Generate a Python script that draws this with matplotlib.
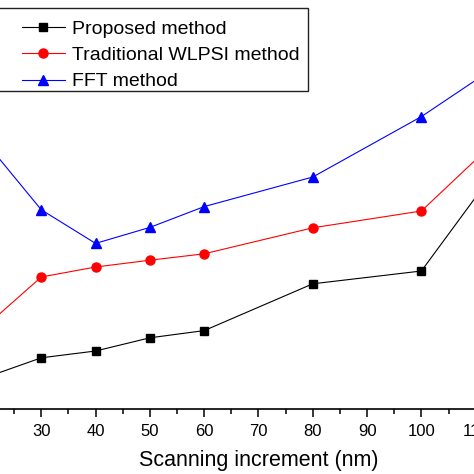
import matplotlib
matplotlib.use("Agg")
import matplotlib.pyplot as plt
from matplotlib.patches import Rectangle

plt.rcParams['font.family'] = ['Liberation Sans', 'DejaVu Sans']

x = [20, 30, 40, 50, 60, 80, 100, 120]
proposed = [0.80, 1.28, 1.45, 1.78, 1.96, 3.13, 3.45, 7.14]
traditional = [2.10, 3.30, 3.55, 3.72, 3.88, 4.53, 4.95, 7.51]
fft = [6.63, 4.98, 4.14, 4.54, 5.06, 5.80, 7.31, 9.13]
labels = ["Proposed method", "Traditional WLPSI method", "FFT method"]
xticks = [20, 30, 40, 50, 60, 70, 80, 90, 100, 110, 120]

W = 474.0
fig = plt.figure(figsize=(4.74, 4.74), dpi=100)
# axes extends beyond the visible region (cropped figure)
left_px, right_px = -13.0, -13.0 + 100 * 5.43
bottom_px, top_px = 409.0, -10.0
ax = fig.add_axes([left_px / W, 1 - bottom_px / W, (right_px - left_px) / W, (bottom_px - top_px) / W])
ax.set_xlim(20, 120)
ax.set_ylim(0, (bottom_px - top_px) / 40.0)

ax.plot(x, proposed, color='black', lw=0.8, marker='s', ms=6, label=labels[0])
ax.plot(x, traditional, color='red', lw=0.8, marker='o', ms=6.5, label=labels[1])
ax.plot(x, fft, color='blue', lw=0.8, marker='^', ms=7, label=labels[2])

ax.set_xticks(xticks)
ax.set_xticks(range(25, 120, 10), minor=True)
ax.tick_params(axis='x', which='major', direction='out', length=6, width=1.1, labelsize=12, pad=5)
ax.tick_params(axis='x', which='minor', direction='out', length=3.5, width=1.1)
ax.set_yticks([])
for s in ax.spines.values():
    s.set_linewidth(1.2)
ax.set_xlabel("Scanning increment (nm)", fontsize=15.5, labelpad=8)

leg = ax.legend(loc='upper left', bbox_to_anchor=(22 / W, 1 - 20 / W), bbox_transform=fig.transFigure,
                frameon=False, fontsize=14, borderpad=0, borderaxespad=0,
                handlelength=2.2, handletextpad=0.35, labelspacing=0.45)
fig.patches.append(Rectangle((-10 / W, 1 - 91 / W), (307.5 + 10) / W, (91 - 8) / W,
                             transform=fig.transFigure, fill=False, edgecolor='#222222', lw=1.0))

fig.savefig("out.png", dpi=100)
